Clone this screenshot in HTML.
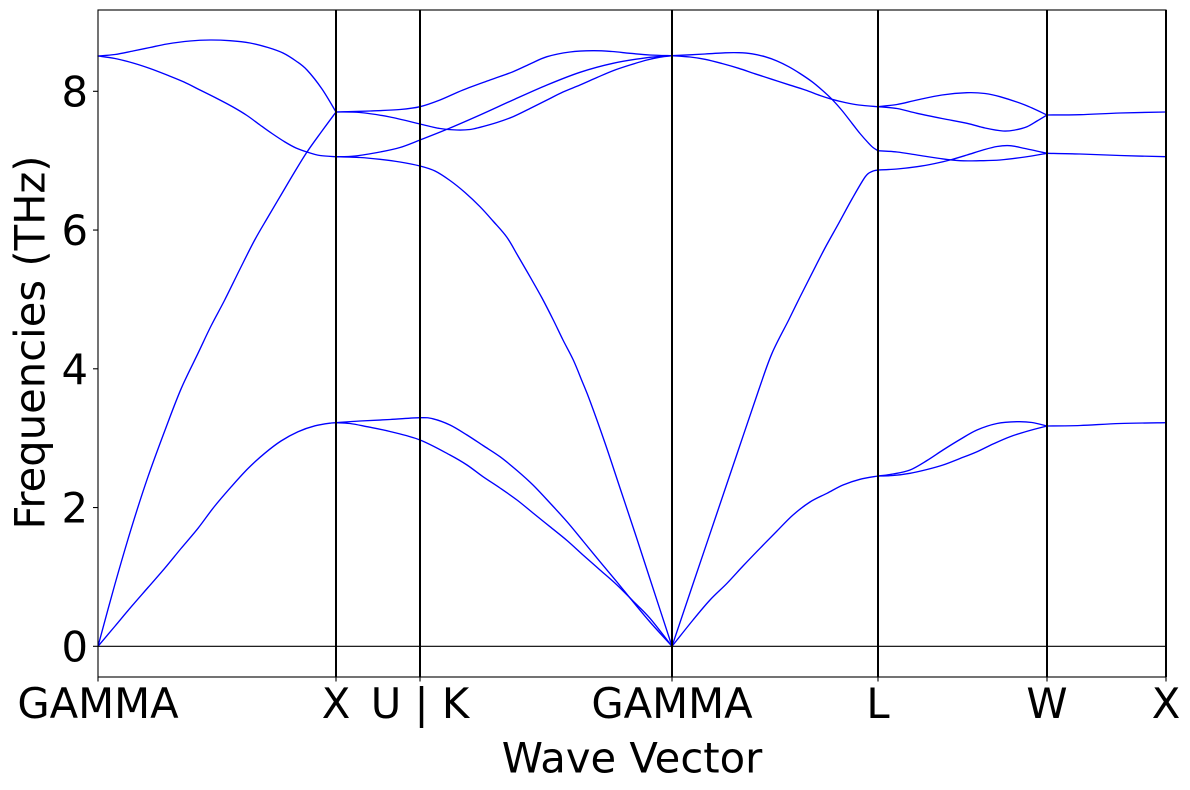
<!DOCTYPE html>
<html>
<head>
<meta charset="utf-8">
<style>
  html, body { margin: 0; padding: 0; background: #ffffff; }
  svg { display: block; }
  text { font-family: "DejaVu Sans", "Liberation Sans", sans-serif; fill: #000; }
</style>
</head>
<body>
<svg width="1190" height="790" viewBox="0 0 1190 790" xmlns="http://www.w3.org/2000/svg">
  <rect x="0" y="0" width="1190" height="790" fill="#ffffff"/>

  <!-- blue band lines -->
  <g id="bands" fill="none" stroke="#0000ff" stroke-width="1.35" stroke-linejoin="round" stroke-linecap="round">
    <!-- GAMMA -> X -->
    <polyline points="98,646.3 114.7,626.5 131.3,606.7 148,587.5 164.7,568.3 181,548.5 198,528.3 214,507 231.3,486.7 248,468.5 264.7,453.3 281,441 298,431.7 315,425.8 331.3,423 336,422.9"/>
    <polyline points="98,646.3 114.7,585 131.3,528.3 148,476.7 166.3,426.7 181.3,388.3 198,353.3 211,326 224.7,300 240,269 254.7,240 268,217 281,195 294,173 307,152 322,131 336,112"/>
    <polyline points="98,56 115,58.5 133,63 150,68.5 167,75 184,82 200,90 217,98.5 233,107 247,115.5 260,125 272,133.5 285,142 296,148 307,152 320,155.5 336,156.7"/>
    <polyline points="98,56 115,54.5 133,51 150,47.5 167,44 190,41 210,40 230,40.7 250,43 268,47.5 283,53 296,61 307,70 322,89 336,112"/>

    <!-- X -> K -> GAMMA -->
    <polyline points="336,112 370,111 400,109.5 420,106.7 440,100 463,90 490,80 513,71.7 530,64 547,56.7 570,52 593,50.7 612,51.5 630,53.3 650,55 672,55.7"/>
    <polyline points="336,112 360,112.5 390,117 420,124 440,128.5 457,130 470,129.5 480,127.3 497,122.5 513,116.7 530,108.5 547,100 563,92 580,85 597,77.5 613,70.7 630,65 647,60 660,57.2 672,55.7"/>
    <polyline points="336,156.7 355,156 380,152 400,147.5 420,140 447,129.3 480,115 513,100 547,85 580,72.3 613,63.3 647,57.7 672,55.7"/>
    <polyline points="336,156.7 360,157.5 380,159.3 400,162 420,166 435,171 450,180.5 465,192.5 480,206.7 493,221 506.7,237 518,256 530,276.7 542,298 553.3,320 563,340 573.3,360 582,381 590,401 605,443 620,488 635,533 650,579 672,646.3"/>
    <polyline points="336,422.7 360,421 390,419.5 420,417.7 433,418.8 450,425 467,435 483,445.5 500,456.7 517,470.5 533,485 550,503 567,521.7 583,541 600,561.7 617,582 633,601.7 650,622 672,646.3"/>
    <polyline points="336,422.7 350,423.5 367,426.7 390,431.5 420,440 450,455 467,465 483,476.7 500,488 517,500 533,513 550,526.7 567,540.5 583,555 600,570 617,585 633,601 650,618.3 672,646.3"/>

    <!-- GAMMA -> L -->
    <polyline points="672,55.7 705,54 725,52.8 738.7,52.7 752,53.8 765,56.7 777,61 788.7,66.7 800,73.5 812,81.7 822,90 832,99.3 842,110.5 852,123.3 860,133.5 868.7,143.3 873,147.5 878,150.7"/>
    <polyline points="672,55.7 690,57 705,59.3 722,63.5 738.7,68.3 755,73.8 772,79.3 789,84.8 805.3,90 820,95.5 832,99.3 845,102.5 858.7,105 878,106.7"/>
    <polyline points="672,646.3 694,581 716,516 738,451 758.7,390 772,353.3 788.7,320 800,297 812,273.3 825,248 838.7,223.3 852,199 865.3,176.7 872,171.5 878,170"/>
    <polyline points="672,646.3 693,620 710,600 727,583.3 743,566 760,548.3 777,531 793,515 810,502 827,493.3 843,485 860,479.3 878,476"/>

    <!-- L -> W -->
    <polyline points="878,106.7 897,104.5 917,100 942,95 967,92.7 985,93.5 1000,96.7 1025,105 1047,115"/>
    <polyline points="878,106.7 897,108.5 917,113.3 942,118.5 967,123.3 985,128 1003,131 1015,130 1027,126.7 1037,121 1047,115"/>
    <polyline points="878,150.7 897,152 917,155 940,158.5 960,160.7 980,160.7 1000,160 1025,157 1047,153.3"/>
    <polyline points="878,170 897,169 917,166.7 935,163.5 950,160 967,155 983,150 997,146.5 1010,145.7 1025,148.5 1047,153.3"/>
    <polyline points="878,476 893,474 910,470 927,460.5 943,450 960,439.5 977,430 997,423.5 1017,421.7 1032,422.5 1047,426"/>
    <polyline points="878,476 893,475.5 910,473.3 927,469.5 943,465 960,458.5 977,451.7 993,444 1010,436.7 1028,431 1047,426"/>

    <!-- W -> X -->
    <polyline points="1047,115 1080,114.7 1120,113 1166,112"/>
    <polyline points="1047,153.3 1080,154 1120,155.5 1166,156.7"/>
    <polyline points="1047,426 1080,425.5 1120,423.5 1166,422.7"/>
  </g>

  <!-- zero line -->
  <line x1="98" y1="646.3" x2="1166" y2="646.3" stroke="#000" stroke-width="1.1"/>

  <!-- high symmetry vertical lines -->
  <g stroke="#000" stroke-width="2">
    <line x1="336" y1="10" x2="336" y2="677"/>
    <line x1="420" y1="10" x2="420" y2="677"/>
    <line x1="672" y1="10" x2="672" y2="677"/>
    <line x1="878" y1="10" x2="878" y2="677"/>
    <line x1="1047" y1="10" x2="1047" y2="677"/>
    <line x1="1166" y1="10" x2="1166" y2="677"/>
  </g>

  <!-- axes frame -->
  <rect x="98" y="10" width="1068" height="667" fill="none" stroke="#000" stroke-width="1.1"/>

  <!-- y ticks -->
  <g stroke="#000" stroke-width="1.1">
    <line x1="93" y1="646.3" x2="98" y2="646.3"/>
    <line x1="93" y1="507.55" x2="98" y2="507.55"/>
    <line x1="93" y1="368.8" x2="98" y2="368.8"/>
    <line x1="93" y1="230.05" x2="98" y2="230.05"/>
    <line x1="93" y1="91.3" x2="98" y2="91.3"/>
  </g>
  <!-- x ticks -->
  <g stroke="#000" stroke-width="1.1">
    <line x1="98" y1="677" x2="98" y2="681.5"/>
    <line x1="336" y1="677" x2="336" y2="681.5"/>
    <line x1="420" y1="677" x2="420" y2="681.5"/>
    <line x1="672" y1="677" x2="672" y2="681.5"/>
    <line x1="878" y1="677" x2="878" y2="681.5"/>
    <line x1="1047" y1="677" x2="1047" y2="681.5"/>
    <line x1="1166" y1="677" x2="1166" y2="681.5"/>
  </g>

  <!-- y tick labels -->
  <g font-size="41.7" text-anchor="end">
    <text x="88" y="661.5">0</text>
    <text x="88" y="522.7">2</text>
    <text x="88" y="384">4</text>
    <text x="88" y="245.2">6</text>
    <text x="88" y="106.5">8</text>
  </g>

  <!-- x tick labels -->
  <g font-size="41.7" text-anchor="middle">
    <text x="98" y="718">GAMMA</text>
    <text x="336" y="718">X</text>
    <text x="420" y="718">U | K</text>
    <text x="672" y="718">GAMMA</text>
    <text x="878" y="718">L</text>
    <text x="1047" y="718">W</text>
    <text x="1166" y="718">X</text>
  </g>

  <!-- axis labels -->
  <text x="632" y="772.7" font-size="41.7" text-anchor="middle">Wave Vector</text>
  <text transform="translate(44.5,342.5) rotate(-90)" x="0" y="0" font-size="41.7" text-anchor="middle">Frequencies (THz)</text>
</svg>
<script>
(function () {
  var NS = "http://www.w3.org/2000/svg";
  var g = document.getElementById("bands");
  if (!g) return;
  var pls = Array.prototype.slice.call(g.getElementsByTagName("polyline"));
  pls.forEach(function (pl) {
    var pts = pl.getAttribute("points").trim().split(/\s+/).map(function (s) {
      return s.split(",").map(Number);
    });
    if (pts.length < 3) return;
    var f = function (v) { return v.toFixed(2); };
    var d = "M" + f(pts[0][0]) + "," + f(pts[0][1]);
    for (var i = 0; i < pts.length - 1; i++) {
      var p0 = pts[i - 1] || pts[i];
      var p1 = pts[i];
      var p2 = pts[i + 1];
      var p3 = pts[i + 2] || p2;
      var c1x = p1[0] + (p2[0] - p0[0]) / 6, c1y = p1[1] + (p2[1] - p0[1]) / 6;
      var c2x = p2[0] - (p3[0] - p1[0]) / 6, c2y = p2[1] - (p3[1] - p1[1]) / 6;
      d += " C" + f(c1x) + "," + f(c1y) + " " + f(c2x) + "," + f(c2y) + " " + f(p2[0]) + "," + f(p2[1]);
    }
    var path = document.createElementNS(NS, "path");
    path.setAttribute("d", d);
    g.replaceChild(path, pl);
  });
})();
</script>
</body>
</html>
